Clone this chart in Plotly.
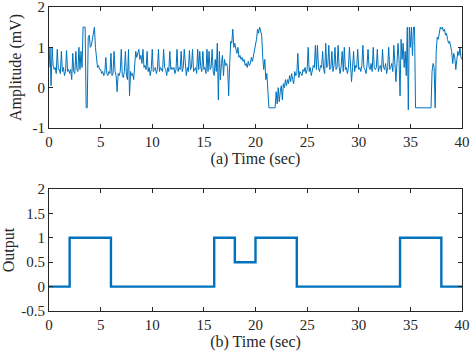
import numpy as np
import plotly.graph_objects as go

# ---- data: ECG amplitude sampled every 0.1 s (0..40 s) ----
amp_0_10 = [
    0.5, 1.0, 0.05, 0.98, 0.55, 0.45, 0.5, 0.35, 0.95, 0.45,
    0.45, 0.35, 0.9, 0.4, 0.5, 0.3, 0.4, 0.92, 0.4, 0.45,
    0.35, 0.45, 0.2, 0.85, 0.4, 0.35, 0.9, 0.45, 0.4, 1.0,
    0.45, 0.9, 0.5, 1.5, 1.5, 1.5, -0.5, -0.5, 1.25, 1.3,
    1.0, 1.05, 1.2, 1.4, 1.5, 1.0, 0.8, 0.5, 0.55, 0.45,
    0.45, 0.35, 0.4, 0.3, 0.35, 0.75, 0.35, 0.3, 0.4, 0.35,
    0.85, 0.3, 0.35, 0.9, 0.4, 0.3, -0.1, 0.35, 0.3, 0.4,
    0.95, 0.3, 0.25, 0.4, 0.9, 0.3, 0.2, 0.95, -0.2, 0.4,
    0.3, 0.35, 0.2, 0.5, 0.9, 0.75, 0.85, 0.95, 0.7, 0.8,
    0.6, 0.95, 0.5, 0.55, 0.45, 0.9, 0.4, 0.5, 0.3, 0.45,
]
amp_10_20 = [
    0.95, 0.4, 0.45, 0.5, 0.35, 0.45, 0.95, 0.4, 0.5, 0.45,
    0.4, 0.95, 0.5, 0.45, 0.3, 0.5, 0.4, 0.9, 0.45, 0.5,
    0.45, 0.5, 0.35, 0.45, 0.95, 0.4, 0.5, 0.45, 0.9, 0.4,
    0.5, 0.95, 0.45, 0.3, 0.5, 0.4, 0.92, 0.45, 0.5, 0.95,
    0.4, 0.45, 0.5, 0.35, 0.95, 0.45, 0.9, 0.5, 0.4, 0.9,
    0.45, 0.5, 0.35, 0.95, 0.4, 0.9, 0.45, 0.5, 0.95, 0.4,
    0.3, 0.7, 0.4, 1.1, -0.3, 0.9, 0.2, 0.6, 0.8, 0.3,
    0.7, 0.55, 0.6, 0.5, -0.2, 0.6, 1.15, 1.1, 1.45, 1.0,
    1.1, 0.95, 0.85, 1.0, 0.75, 0.8, 0.7, 0.75, 0.65, 0.7,
    0.55, 0.6, 0.5, 0.65, 0.55, 0.6, 0.75, 0.65, 0.8, 0.9,
]
amp_20_30 = [
    1.0, 1.2, 1.45, 1.35, 1.5, 1.4, 1.3, 0.75, 0.45, 0.7,
    0.2, 0.35, -0.1, -0.5, -0.5, -0.5, -0.5, -0.5, -0.5, -0.5,
    -0.1, -0.4, 0.0, -0.35, -0.1, 0.05, -0.3, 0.1, 0.0, 0.2,
    0.05, 0.2, 0.1, 0.3, 0.15, 0.35, 0.2, 0.1, 0.4, 0.3,
    0.35, 0.85, 0.25, 0.4, 0.35, 0.3, 0.45, 0.4, 0.5, 0.35,
    0.45, 1.0, 0.4, 0.5, 0.3, 0.45, 0.55, 0.5, 1.05, 0.45,
    1.05, 0.5, 0.4, 0.55, 0.5, 0.9, 0.45, 0.35, 1.1, 0.5,
    0.55, 1.05, 0.45, 0.5, 0.9, 0.4, 0.55, 1.0, 0.45, 0.5,
    1.05, 0.5, 0.35, 0.55, 0.9, 0.4, 1.0, 0.45, 0.5, 0.35,
    0.5, 1.0, 0.45, 0.15, 0.5, 0.9, 0.4, 0.55, 0.5, 0.95,
]
amp_30_40 = [
    0.45, 0.5, 0.4, 0.55, 1.05, 0.5, 0.45, 0.35, 0.55, 0.95,
    0.5, 0.45, 0.6, 0.4, 1.0, 0.5, 0.45, 0.5, 0.95, 0.4,
    0.5, 0.55, 0.4, 0.95, 0.5, 0.45, 0.6, 0.35, 0.5, 1.0,
    0.45, 0.5, 0.6, 0.4, 1.05, 0.5, 0.15, 0.6, 1.1, 0.7,
    -0.2, 1.2, 0.7, 1.1, 0.5, 0.9, 0.3, 1.5, -0.55, 1.5,
    1.0, 1.5, 0.8, 1.5, 1.5, -0.5, -0.5, -0.5, -0.5, -0.5,
    -0.5, -0.5, -0.5, -0.5, -0.5, -0.5, -0.5, -0.5, -0.5, -0.5,
    -0.5, 0.4, 0.6, 0.5, -0.5, 0.9, 1.25, 1.2, 1.4, 1.5,
    1.45, 1.5, 1.4, 1.45, 1.3, 1.35, 1.2, 1.1, 1.15, 1.0,
    0.9, 0.6, 0.85, 0.75, 0.45, 0.7, 0.9, 0.8, 1.0, 0.75,
    0.7,
]
amplitude = amp_0_10 + amp_10_20 + amp_20_30 + amp_30_40
sample_step = 0.1
time_a = [round(i * sample_step, 1) for i in range(len(amplitude))]

# ---- data: classifier output (step function) ----
time_b = [0, 2, 6, 16, 18, 20, 24, 34, 38, 40]
output_b = [0, 1, 0, 1, 0.5, 1, 0, 1, 0, 0]

x_ticks = [0, 5, 10, 15, 20, 25, 30, 35, 40]
y_ticks_a = [-1, 0, 1, 2]
y_text_a = ["-1", "0", "1", "2"]
y_ticks_b = [-0.5, 0, 0.5, 1, 1.5, 2]
y_text_b = ["-0.5", "0", "0.5", "1", "1.5", "2"]

BLUE = "#0072BD"
AX = "#262626"
FONT = "Liberation Serif, Times New Roman, serif"

fig = go.Figure()
fig.add_trace(go.Scatter(x=time_a, y=amplitude, mode="lines",
                         line=dict(color=BLUE, width=1), xaxis="x", yaxis="y",
                         showlegend=False))
fig.add_trace(go.Scatter(x=time_b, y=output_b, mode="lines",
                         line=dict(color=BLUE, width=2.4, shape="hv"),
                         xaxis="x2", yaxis="y2", showlegend=False))

axis_common = dict(showline=True, linecolor=AX, linewidth=0.8, mirror="ticks",
                   ticks="inside", ticklen=4, tickcolor=AX, tickwidth=0.8,
                   showgrid=False, zeroline=False, automargin=False,
                   ticklabeloverflow="allow",
                   tickfont=dict(family=FONT, size=15, color=AX))
title_font = dict(family=FONT, size=16, color=AX)

top_h = 304
fig.update_layout(
    width=474, height=351,
    margin=dict(l=49, r=12, t=7, b=40),
    plot_bgcolor="white", paper_bgcolor="white",
    font=dict(family=FONT, color=AX),
    xaxis=dict(axis_common, domain=[0, 1], range=[0, 40], tickvals=x_ticks,
               anchor="y",
               title=dict(text="(a) Time (sec)", font=title_font, standoff=1)),
    yaxis=dict(axis_common, domain=[(311 - 128) / top_h, 1], range=[-1, 2],
               tickvals=y_ticks_a, ticktext=y_text_a, anchor="x",
               title=dict(text="Amplitude (mV)", font=title_font, standoff=6)),
    xaxis2=dict(axis_common, domain=[0, 1], range=[0, 40], tickvals=x_ticks,
                anchor="y2",
                title=dict(text="(b) Time (sec)", font=title_font, standoff=1)),
    yaxis2=dict(axis_common, domain=[0, (311 - 189) / top_h], range=[-0.5, 2],
                tickvals=y_ticks_b, ticktext=y_text_b, anchor="x2",
                title=dict(text="Output", font=title_font, standoff=6)),
)

fig.write_html("out.html")
